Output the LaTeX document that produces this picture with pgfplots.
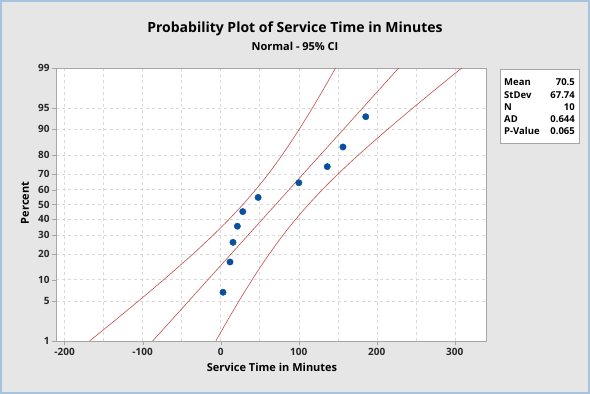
\documentclass[border=0pt]{standalone}
\usepackage{fontspec}
\setmainfont{Open Sans}
\usepackage{pgfplots}
\pgfplotsset{compat=1.18}
\definecolor{bg}{HTML}{E6E6E6}
\definecolor{ci}{HTML}{C0504D}
\definecolor{ptc}{HTML}{0A4FA0}
\definecolor{gridc}{HTML}{D9D9D9}
\definecolor{framec}{HTML}{A6A6A6}
\definecolor{win}{HTML}{A8C3DE}
\begin{document}
\begin{tikzpicture}[x=1pt,y=1pt]
\fill[bg] (0,0) rectangle (590,394);
\draw[win, line width=2pt] (1,1) rectangle (589,393);
\begin{axis}[at={(56pt,53pt)}, anchor=south west, scale only axis,
  width=430pt, height=273pt,
  xmin=-211, xmax=340, ymin=-2.3263, ymax=2.3263,
  axis background/.style={fill=white},
  xtick={-200,-100,0,100,200,300},
  minor xtick={-150,-50,50,150,250},
  ytick={-2.3263,-1.6449,-1.2816,-0.8416,-0.5244,-0.2533,0,0.2533,0.5244,0.8416,1.2816,1.6449,2.3263},
  yticklabels={1,5,10,20,30,40,50,60,70,80,90,95,99},
  grid=both, major grid style={gridc, dashed}, minor grid style={gridc, dashed},
  tick align=outside, major tick length=4pt, minor tick length=0pt,
  tick style={framec}, axis line style={framec},
  xtick pos=bottom, ytick pos=left,
  /pgf/number format/assume math mode=true,
  ticklabel style={font=\fontsize{10}{11}\selectfont\bfseries, text=black!85},
  yticklabel style={xshift=1pt},
  clip=true,
]
\addplot[ci, smooth, line width=0.6pt] coordinates {(-167.9,-2.3263)(-137.7,-2)(-101.3,-1.6)(-65.9,-1.2)(-31.9,-0.8)(-0.2,-0.4)(28.5,0)(54.0,0.4)(76.5,0.8)(96.7,1.2)(115.5,1.6)(133.3,2)(147.2,2.3263)};
\addplot[ci, smooth, line width=0.6pt] coordinates {(-6.2,-2.3263)(7.7,-2)(25.5,-1.6)(44.3,-1.2)(64.6,-0.8)(87.0,-0.4)(112.5,0)(141.2,0.4)(172.9,0.8)(206.9,1.2)(242.3,1.6)(278.7,2)(308.9,2.3263)};
\addplot[ci, line width=0.6pt] coordinates {(-87.1,-2.3263)(228.1,2.3263)};
\addplot[only marks, mark=*, mark size=3.2pt, ptc] coordinates {
(3.0,-1.496)(12.0,-0.980)(15.8,-0.645)(21.4,-0.370)(28.3,-0.121)
(48.0,0.121)(100.2,0.370)(136.6,0.645)(156.7,0.980)(185.9,1.496)};
\end{axis}
\node[font=\fontsize{14}{16}\selectfont\bfseries] at (295,365) {Probability Plot of Service Time in Minutes};
\node[font=\fontsize{11}{13}\selectfont\bfseries] at (295,348) {Normal - 95\% CI};
\node[font=\fontsize{11}{13}\selectfont\bfseries, rotate=90] at (25,191) {Percent};
\node[font=\fontsize{11}{13}\selectfont\bfseries] at (272,27) {Service Time in Minutes};
\draw[framec, fill=white] (500,325) rectangle (579,251);
\foreach \y/\a/\b in {312/Mean/70.5, 299/StDev/67.74, 287/N/10, 275/AD/0.644, 263/P-Value/0.065}{
  \node[font=\fontsize{9.5}{11}\selectfont\bfseries, anchor=west, inner sep=0pt] at (504,\y) {\a};
  \node[font=\fontsize{9.5}{11}\selectfont\bfseries, anchor=east, inner sep=0pt] at (575,\y) {\b};
}
\end{tikzpicture}
\end{document}
